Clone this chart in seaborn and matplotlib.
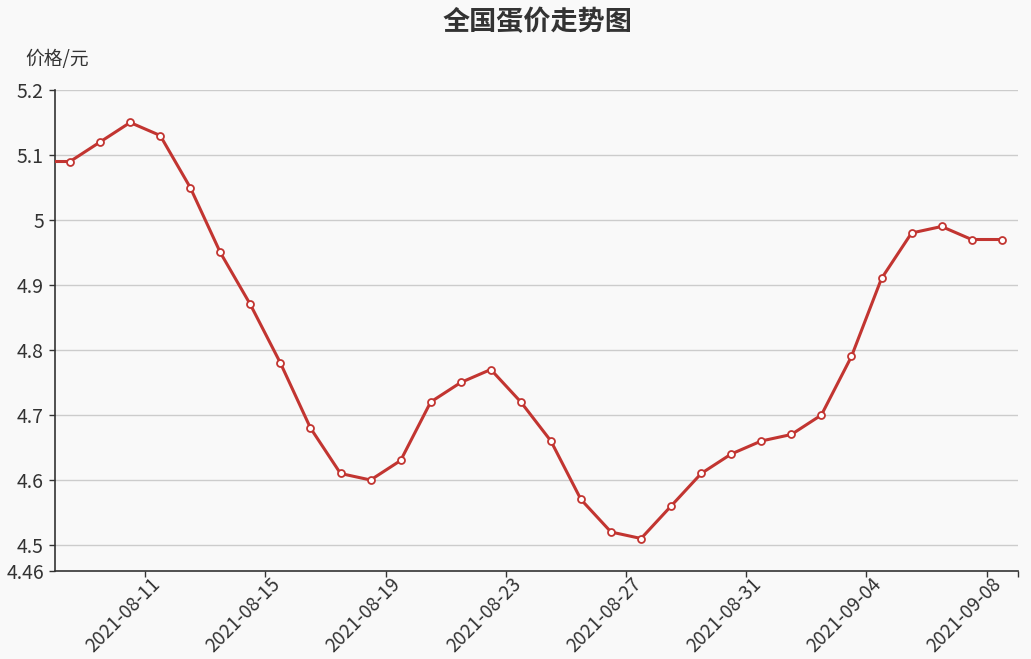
import pandas as pd
import matplotlib
matplotlib.use("Agg")
import matplotlib.pyplot as plt
import matplotlib.transforms as mtransforms
import seaborn as sns

# daily egg price, one point per day (recorded at noon)
dates = pd.date_range("2021-08-07 12:00", "2021-09-08 12:00", freq="D")
prices = [5.09, 5.09, 5.12, 5.15, 5.13, 5.05, 4.95, 4.87, 4.78, 4.68,
          4.61, 4.60, 4.63, 4.72, 4.75, 4.77, 4.72, 4.66, 4.57, 4.52,
          4.51, 4.56, 4.61, 4.64, 4.66, 4.67, 4.70, 4.79, 4.91, 4.98,
          4.99, 4.97, 4.97]
tick_dates = pd.date_range("2021-08-11", "2021-09-08", freq="4D")
y_ticks = [4.46, 4.5, 4.6, 4.7, 4.8, 4.9, 5.0, 5.1, 5.2]
y_labels = ["4.46", "4.5", "4.6", "4.7", "4.8", "4.9", "5", "5.1", "5.2"]

df = pd.DataFrame({"date": dates, "price": prices})

sns.set_style("white")
plt.rcParams["font.family"] = ["Noto Sans CJK SC", "DejaVu Sans"]

bg = "#f9f9f9"
red = "#c23531"
txt = "#333333"

fig = plt.figure(figsize=(10.31, 6.59), dpi=100, facecolor=bg)
ax = fig.add_axes([55 / 1031, 1 - 571 / 659, (1018 - 55) / 1031, (571 - 90) / 659])
ax.set_facecolor(bg)

# grid lines at the 0.1 steps
for v in y_ticks[1:]:
    ax.axhline(v, color="#cccccc", lw=1, zorder=0)

sns.lineplot(data=df, x="date", y="price", ax=ax, color=red, lw=2.2,
             marker="o", markersize=5, markerfacecolor="white",
             markeredgecolor=red, markeredgewidth=1.3, zorder=3)

x_end = pd.Timestamp("2021-09-09 01:00")
ax.set_xlim(pd.Timestamp("2021-08-08"), x_end)
ax.set_ylim(4.46, 5.2)

ax.set_yticks(y_ticks)
ax.set_yticklabels(y_labels)
ax.set_xticks(list(tick_dates) + [x_end])
ax.set_xticklabels([d.strftime("%Y-%m-%d") for d in tick_dates] + [""])

ax.tick_params(axis="both", colors=txt, length=4.5, width=1,
               direction="out", left=True, bottom=True)
ax.tick_params(axis="y", labelsize=14, pad=3.5)
ax.tick_params(axis="x", labelsize=13.5, pad=3)

# rotated date labels, nudged right like the original
shift = mtransforms.ScaledTranslation(12 / 100, 0, fig.dpi_scale_trans)
for lab in ax.get_xticklabels():
    lab.set_rotation(45)
    lab.set_ha("right")
    lab.set_va("center")
    lab.set_rotation_mode("anchor")
    lab.set_transform(lab.get_transform() + shift)

for s in ["top", "right"]:
    ax.spines[s].set_visible(False)
for s in ["left", "bottom"]:
    ax.spines[s].set_color(txt)
    ax.spines[s].set_linewidth(1.2)

ax.set_xlabel("")
ax.set_ylabel("")

fig.text(537 / 1031, 1 - 22 / 659, "全国蛋价走势图", ha="center", va="center",
         fontsize=19.5, fontweight="bold", color=txt)
fig.text(25 / 1031, 1 - 60 / 659, "价格/元", ha="left", va="center",
         fontsize=13.5, color=txt)

fig.savefig("out.png", dpi=100, facecolor=bg)
